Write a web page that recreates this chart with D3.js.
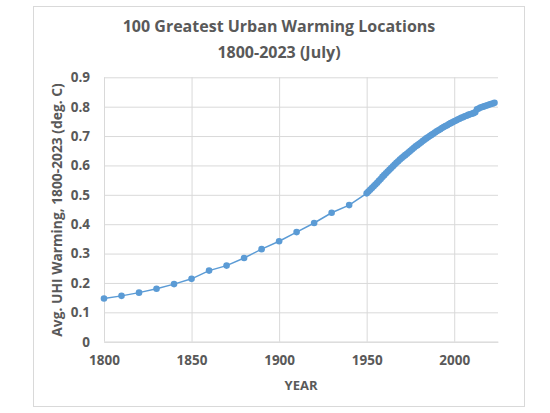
<!DOCTYPE html>
<html>
<head>
<meta charset="utf-8">
<script src="https://cdn.jsdelivr.net/npm/d3@7"></script>
<style>
  body { margin: 0; background: #fff; }
  text { font-family: "Open Sans", sans-serif; fill: #595959; font-weight: bold; }
</style>
</head>
<body>
<svg id="chart" width="550" height="413"></svg>
<script>
// decadal values 1800-1940
var decadeYears = [1800, 1810, 1820, 1830, 1840, 1850, 1860, 1870, 1880, 1890, 1900, 1910, 1920, 1930, 1940];
var decadeValues = [0.147, 0.156, 0.167, 0.180, 0.196, 0.214, 0.242, 0.259, 0.285, 0.315, 0.342, 0.373, 0.404, 0.439, 0.465];

// yearly values 1950-2023
var yearlyYears = d3.range(1950, 2024);
var yearlyValues = [
  0.505, 0.511, 0.517, 0.523, 0.529, 0.535, 0.541, 0.548, 0.554, 0.561,
  0.567, 0.573, 0.579, 0.585, 0.591, 0.597, 0.603, 0.609, 0.614, 0.620,
  0.625, 0.630, 0.635, 0.640, 0.645, 0.650, 0.655, 0.660, 0.665, 0.669,
  0.674, 0.678, 0.683, 0.687, 0.692, 0.696, 0.700, 0.704, 0.708, 0.712,
  0.716, 0.720, 0.723, 0.727, 0.731, 0.734, 0.737, 0.741, 0.744, 0.747,
  0.750, 0.753, 0.756, 0.759, 0.762, 0.764, 0.767, 0.769, 0.772, 0.774,
  0.776, 0.778, 0.781, 0.791, 0.794, 0.797, 0.799, 0.801, 0.803, 0.805,
  0.807, 0.809, 0.811, 0.813
];

var xTicks = [1800, 1850, 1900, 1950, 2000];
var yTicks = [0, 0.1, 0.2, 0.3, 0.4, 0.5, 0.6, 0.7, 0.8, 0.9];

var titleLines = ["100 Greatest Urban Warming Locations", "1800-2023 (July)"];
var yLabel = "Avg. UHI Warming, 1800-2023 (deg. C)";
var xLabel = "YEAR";

var svg = d3.select("#chart");
var color = "#5b9bd5";
var gridColor = "#d9d9d9";

// plot area edges (window.top is reserved, so use other names)
var plotLeft = 104, plotRight = 498, plotTop = 77.3, plotBottom = 341.7;

var xScale = d3.scaleLinear().domain([1800, 2025]).range([plotLeft, plotRight]);
var yScale = d3.scaleLinear().domain([0, 0.9]).range([plotBottom, plotTop]);

// chart border
svg.append("rect")
  .attr("x", 33.5).attr("y", 6.5)
  .attr("width", 491).attr("height", 400)
  .style("fill", "#fff")
  .style("stroke", gridColor);

// title
svg.selectAll(".title")
  .data(titleLines)
  .enter().append("text")
  .attr("class", "title")
  .attr("x", 279)
  .attr("y", (d, i) => 32 + i * 26)
  .attr("text-anchor", "middle")
  .style("font-size", "16px")
  .text(d => d);

// grid lines
var gridY = svg.append("g")
  .attr("class", "grid")
  .attr("transform", `translate(${plotLeft},0)`)
  .call(d3.axisLeft(yScale)
    .tickValues(yTicks)
    .tickSize(-(plotRight - plotLeft))
    .tickFormat(""));

var gridX = svg.append("g")
  .attr("class", "grid")
  .attr("transform", `translate(0,${plotBottom})`)
  .call(d3.axisBottom(xScale)
    .tickValues(xTicks)
    .tickSize(-(plotBottom - plotTop))
    .tickFormat(""));

svg.selectAll(".grid line").style("stroke", gridColor);
svg.selectAll(".grid path").remove();

// x axis
var xAxis = svg.append("g")
  .attr("transform", `translate(0,${plotBottom})`)
  .call(d3.axisBottom(xScale).tickValues(xTicks).tickSize(0).tickPadding(14).tickFormat(d3.format("d")));
xAxis.select(".domain").style("stroke", gridColor);
xAxis.selectAll("text").style("font-size", "13.5px").style("font-family", "Open Sans").style("fill", "#595959");

// y axis
var yAxis = svg.append("g")
  .attr("transform", `translate(${plotLeft},0)`)
  .call(d3.axisLeft(yScale).tickValues(yTicks).tickSize(0).tickPadding(14).tickFormat(d => d === 0 ? "0" : d3.format(".1f")(d)));
yAxis.select(".domain").remove();
yAxis.selectAll("text").style("font-size", "13.5px").style("font-family", "Open Sans").style("fill", "#595959");

// axis titles
svg.append("text")
  .attr("x", 301)
  .attr("y", 390)
  .attr("text-anchor", "middle")
  .style("font-size", "13px")
  .text(xLabel);

svg.append("text")
  .attr("transform", "translate(62,210) rotate(-90)")
  .attr("text-anchor", "middle")
  .style("font-size", "13.8px")
  .text(yLabel);

// combined series
var points = decadeYears.map((d, i) => ({ year: d, value: decadeValues[i] }))
  .concat(yearlyYears.map((d, i) => ({ year: d, value: yearlyValues[i] })));

var line = d3.line()
  .x(d => xScale(d.year))
  .y(d => yScale(d.value));

svg.append("path")
  .datum(points)
  .attr("d", line)
  .style("fill", "none")
  .style("stroke", color)
  .style("stroke-width", 1.5);

svg.selectAll(".dot")
  .data(points)
  .enter().append("circle")
  .attr("class", "dot")
  .attr("cx", d => xScale(d.year))
  .attr("cy", d => yScale(d.value))
  .attr("r", 3.3)
  .style("fill", color);
</script>
</body>
</html>
